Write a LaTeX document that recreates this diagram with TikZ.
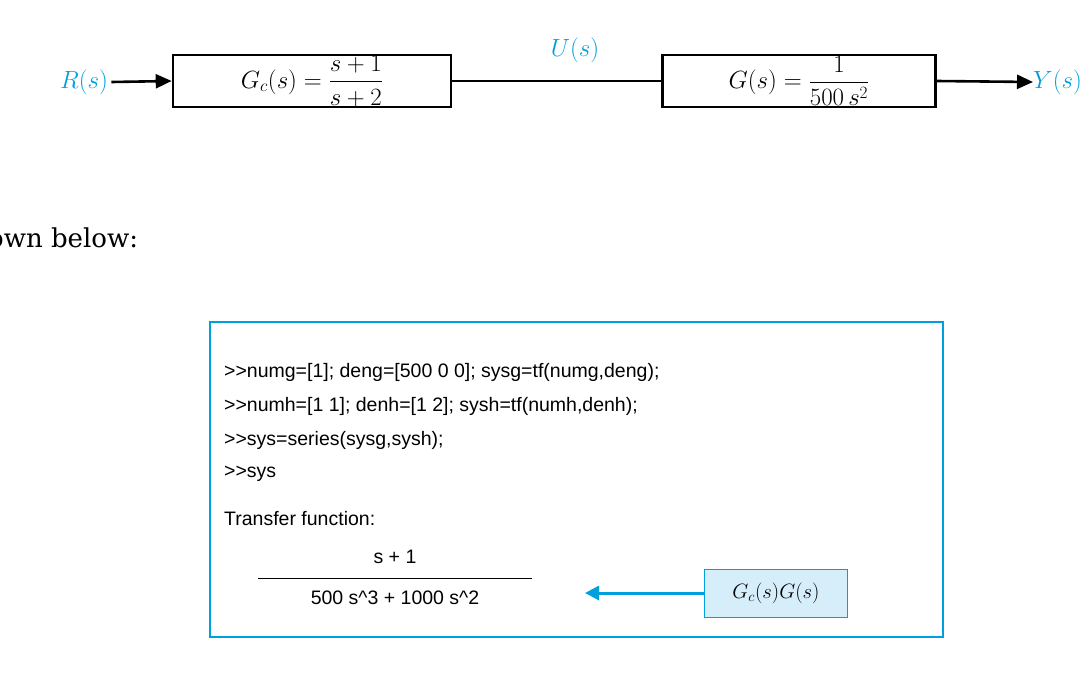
\documentclass[tikz,border=0pt]{standalone}
\usepackage{amsmath}
\usepackage{fontspec}
\setmainfont{Liberation Serif}
\setsansfont{Liberation Sans}
\newfontfamily\slabfont{DejaVu Serif}
\usetikzlibrary{arrows.meta}
\definecolor{cblue}{RGB}{0,160,222}
\definecolor{lblue}{RGB}{214,238,250}
\begin{document}
\begin{tikzpicture}[x=1pt,y=-1pt,
  blk/.style={draw,line width=2.6pt,minimum height=52pt,inner sep=0pt},
  sig/.style={font=\fontsize{24}{26}\selectfont,text=cblue},
  wire/.style={line width=2.6pt,-{Triangle[length=16pt,width=14pt]}},
  code/.style={font=\sffamily\fontsize{19.5}{22}\selectfont,anchor=west,inner sep=0pt}]
\useasboundingbox (0,0) rectangle (1081,675);
\node[sig] (r) at (84,82) {$R(s)$};
\node[blk,minimum width=278pt,font=\fontsize{25}{27}\selectfont] (gc) at (312,81) {$G_c(s)=\dfrac{s+1}{s+2}$};
\node[blk,minimum width=273pt,font=\fontsize{25}{27}\selectfont] (g) at (799,81) {$G(s)=\dfrac{1}{500\,s^2}$};
\node[sig] (u) at (575,50) {$U(s)$};
\node[sig,anchor=west,inner sep=0pt] (y) at (1033,82) {$Y(s)$};
\draw[wire] (r.east) -- (gc.west);
\draw[line width=2.6pt] (gc.east) -- (g.west);
\draw[wire] (g.east) -- (y.west);
\node[anchor=west,inner sep=0pt,font=\slabfont\fontsize{26}{28}\selectfont] (t) at (-12,238) {own below:};
\node[draw=cblue,line width=1.2pt,minimum width=733pt,minimum height=315pt,inner sep=0pt] (cb) at (576.5,479.5) {};
\node[code] (l1) at (224,372) {{>}{>}numg=[1]; deng=[500 0 0]; sysg=tf(numg,deng);};
\node[code] (l2) at (224,406) {{>}{>}numh=[1 1]; denh=[1 2]; sysh=tf(numh,denh);};
\node[code] (l3) at (224,440) {{>}{>}sys=series(sysg,sysh);};
\node[code] (l4) at (224,474) {{>}{>}sys};
\node[code] (l5) at (224,519) {Transfer function:};
\node[code,anchor=center] (n) at (395,557) {s + 1};
\node[code,anchor=center] (d) at (395,598) {500 s\^{}3 + 1000 s\^{}2};
\draw[line width=1pt] (258,578) -- (532,578);
\node[draw=cblue,fill=lblue,line width=1pt,minimum width=143pt,minimum height=48pt,font=\fontsize{22}{24}\selectfont] (gg) at (776,593) {$G_c(s)G(s)$};
\draw[cblue,line width=3pt,-{Triangle[length=14pt,width=14pt]}] (gg.west) -- (585,593);
\end{tikzpicture}
\end{document}
